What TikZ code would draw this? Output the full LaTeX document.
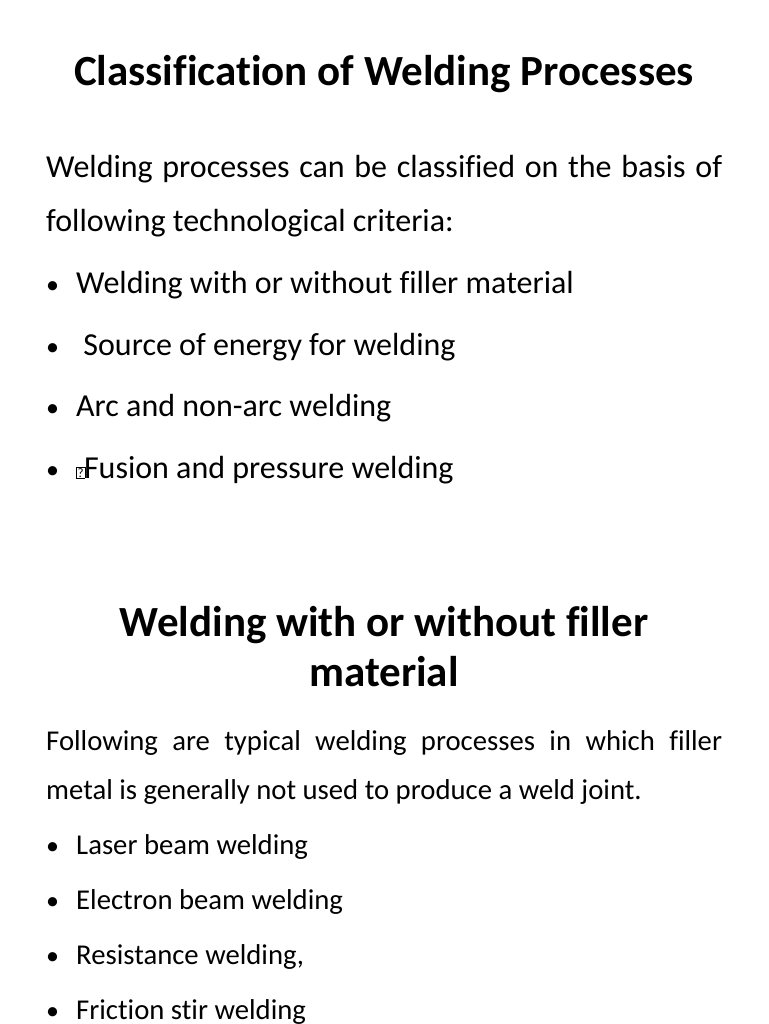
\documentclass[tikz,border=0pt]{standalone}
\usepackage{fontspec}
\setmainfont{Carlito}[Ligatures=NoCommon]
\begin{document}
\begin{tikzpicture}[x=1pt,y=-1pt,
 body/.style={anchor=base west,inner sep=0pt,font=\fontsize{32}{36}\selectfont},
 bodys/.style={anchor=base west,inner sep=0pt,font=\fontsize{28.7}{32}\selectfont},
 head/.style={anchor=base,inner sep=0pt,font=\fontsize{43}{48}\selectfont\bfseries},
 bul/.style={anchor=base west,inner sep=0pt,font=\fontsize{26}{30}\selectfont}]
\useasboundingbox[fill=white] (0,0) rectangle (768,1024);
\node[head] (t1) at (384,86) {Classification of Welding Processes};
\node[body] (p1) at (46,178) {\makebox[676pt][s]{Welding processes can be classified on the basis of}};
\node[body] (p2) at (46,232) {following technological criteria:};
\foreach \y/\t/\n in {293/{Welding with or without filler material}/a,355/{\ Source of energy for welding}/b,416/{Arc and non-arc welding}/c}{
 \node[bul] (b\n) at (46,\y) {•};
 \node[body] (s\n) at (76,\y) {\t};}
\node[bul] (bd) at (46,478) {•};
\node[body] (sd) at (76,478) {\setlength{\fboxsep}{1pt}\raisebox{1pt}{\fbox{\fontsize{13}{14}\selectfont ?}}\hspace{-1pt}Fusion and pressure welding};
\node[head] (t2) at (384,636) {Welding with or without filler};
\node[head] (t3) at (384,686) {material};
\node[bodys] (q1) at (46,750) {\makebox[676pt][s]{Following are typical welding processes in which filler}};
\node[bodys] (q2) at (46,799) {metal is generally not used to produce a weld joint.};
\foreach \y/\t/\n in {854/{Laser beam welding}/e,909/{Electron beam welding}/f,964/{Resistance welding,}/g,1019/{Friction stir welding}/h}{
 \node[bul] (b\n) at (46,\y) {•};
 \node[bodys] (s\n) at (76,\y) {\t};}
\end{tikzpicture}
\end{document}
